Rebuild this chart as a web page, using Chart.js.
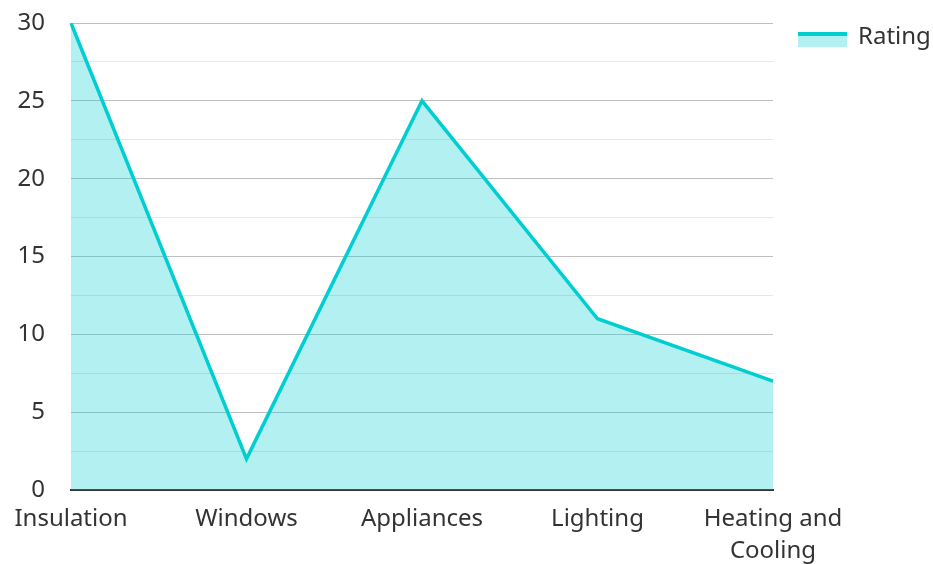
<!DOCTYPE html>
<html>
<head>
<meta charset="utf-8">
<script src="https://cdn.jsdelivr.net/npm/chart.js@4"></script>
<style>
  html, body { margin: 0; padding: 0; background: #fff; }
  #wrap { width: 933px; height: 564px; }
</style>
</head>
<body>
<div id="wrap"><canvas id="ratingChart" width="933" height="564"></canvas></div>
<script>
// Dữ liệu biểu đồ
const categories = ['Insulation', 'Windows', 'Appliances', 'Lighting', ['Heating and', 'Cooling']];
const ratings = [30, 2, 25, 11, 7];
const yTicks = [0, 5, 10, 15, 20, 25, 30];

const lineColor = '#00CED1';
const fillColor = 'rgba(0, 206, 209, 0.3)';

// Chú thích tự vẽ: ô nền nhạt + đường kẻ phía trên, đặt bên phải
const sideLegend = {
    id: 'sideLegend',
    afterDraw(chart) {
        const g = chart.ctx;
        const ds = chart.data.datasets[0];
        const x = chart.chartArea.right + 25;
        const y = chart.chartArea.top + 9;
        g.save();
        g.fillStyle = ds.backgroundColor;
        g.fillRect(x, y, 49, 15);
        g.fillStyle = ds.borderColor;
        g.fillRect(x, y, 49, 4);
        g.fillStyle = '#333';
        g.font = "24px 'Noto Sans', sans-serif";
        g.textBaseline = 'middle';
        g.textAlign = 'left';
        g.fillText(ds.label, x + 60, y + 5);
        g.restore();
    }
};

Chart.defaults.font.family = "'Noto Sans', sans-serif";
Chart.defaults.font.size = 24;
Chart.defaults.color = '#333';

const ctx = document.getElementById('ratingChart').getContext('2d');
new Chart(ctx, {
    type: 'line',
    data: {
        labels: categories,
        datasets: [{
            label: 'Rating',
            data: ratings,
            borderColor: lineColor,
            backgroundColor: fillColor,
            borderWidth: 3.5,
            fill: 'origin',
            tension: 0,
            pointRadius: 0
        }]
    },
    plugins: [sideLegend],
    options: {
        responsive: false,
        animation: false,
        layout: { padding: { top: 23, right: 160, left: 17, bottom: 0 } },
        plugins: {
            legend: { display: false },
            tooltip: { enabled: false }
        },
        scales: {
            x: {
                offset: false,
                grid: { display: false, drawTicks: false },
                border: { display: true, color: '#333', width: 2 },
                ticks: { padding: 14, maxRotation: 0, autoSkip: false, font: { lineHeight: 1.3 } },
                afterFit: s => { s.paddingLeft = 0; s.paddingRight = 0; s.height = 74; }
            },
            y: {
                min: 0,
                max: 30,
                grid: {
                    drawTicks: false,
                    color: c => (c.tick && c.tick.value % 5 === 0) ? '#c0c0c0' : '#e6e6e6'
                },
                border: { display: false },
                ticks: {
                    stepSize: 2.5,
                    padding: 26,
                    callback: v => yTicks.includes(v) ? v : ''
                },
                afterFit: s => { s.paddingTop = 0; s.paddingBottom = 0; s.width = 54; }
            }
        }
    }
});
</script>
</body>
</html>
